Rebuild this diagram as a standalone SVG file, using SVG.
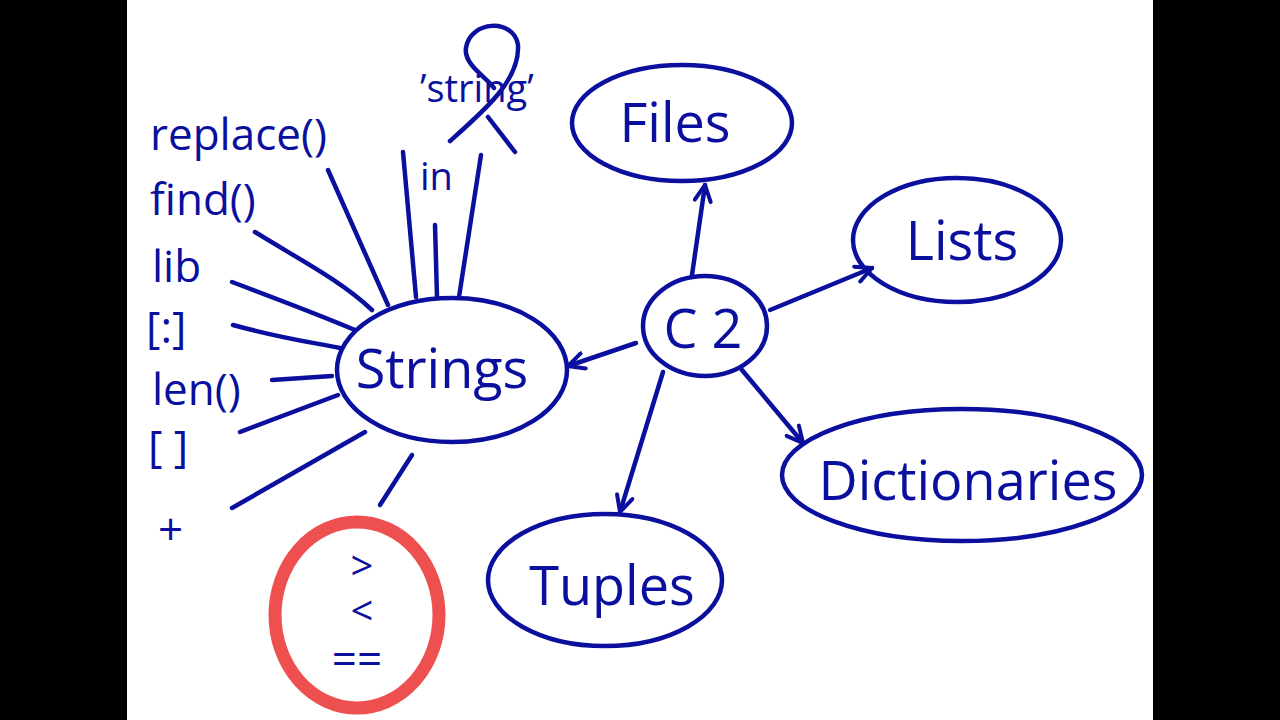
<svg xmlns="http://www.w3.org/2000/svg" width="1280" height="720" viewBox="0 0 1280 720">
<style>
.n{fill:none;stroke:#0a0f9e;stroke-width:4.5;stroke-linecap:round}
.t{fill:#0a0f9e;font-family:"Open Sans",sans-serif}
.l{font-size:54px}
.s{font-size:44px}
</style>
<defs><marker id="a" viewBox="0 0 10 10" refX="9" refY="5" markerWidth="20" markerHeight="20" orient="auto" markerUnits="userSpaceOnUse"><path d="M1,1 L9,5 L1,9" fill="none" stroke="#0a0f9e" stroke-width="2" stroke-linecap="round"/></marker></defs>
<rect width="1280" height="720" fill="#000"/>
<rect x="127" y="0" width="1026" height="720" fill="#fff"/>
<g id="files"><ellipse class="n" cx="682" cy="123" rx="110" ry="58"/><text class="t l" x="675" y="142" text-anchor="middle">Files</text></g>
<g id="lists"><ellipse class="n" cx="957" cy="240" rx="104" ry="62"/><text class="t l" x="962" y="260" text-anchor="middle">Lists</text></g>
<g id="c2"><ellipse class="n" cx="705" cy="326" rx="62" ry="50"/><text class="t l" x="703" y="348" text-anchor="middle">C 2</text></g>
<g id="strings"><ellipse class="n" cx="452" cy="370" rx="115" ry="72"/><text class="t l" x="442" y="388" text-anchor="middle">Strings</text></g>
<g id="dictionaries"><ellipse class="n" cx="962" cy="475" rx="180" ry="66"/><text class="t l" x="968" y="500" text-anchor="middle">Dictionaries</text></g>
<g id="tuples"><ellipse class="n" cx="605" cy="580" rx="117" ry="66"/><text class="t l" x="612" y="605" text-anchor="middle">Tuples</text></g>
<g id="compare"><ellipse cx="357" cy="615" rx="82" ry="93" fill="none" stroke="#ee5050" stroke-width="13"/>
<text class="t" x="362" y="580" font-size="40" text-anchor="middle">&gt;</text><text class="t" x="362" y="625" font-size="40" text-anchor="middle">&lt;</text><text class="t" x="357" y="675" font-size="44" text-anchor="middle">==</text></g>
<g id="labels">
<text class="t s" x="150" y="150">replace()</text>
<text class="t s" x="150" y="215">find()</text>
<text class="t s" x="152" y="282">lib</text>
<text class="t s" x="146" y="343">[:]</text>
<text class="t s" x="152" y="405">len()</text>
<text class="t s" x="148" y="462">[ ]</text>
<text class="t s" x="158" y="545">+</text>
<text class="t" x="420" y="190" font-size="38">in</text>
<text class="t" x="420" y="102" font-size="38">’string’</text>
</g>
<g id="connectors">
<path class="n" d="M692,275 L705,185" marker-end="url(#a)"/>
<path class="n" d="M770,310 L872,268" marker-end="url(#a)"/>
<path class="n" d="M636,343 L568,366" marker-end="url(#a)"/>
<path class="n" d="M663,372 L620,512" marker-end="url(#a)"/>
<path class="n" d="M742,370 L803,443" marker-end="url(#a)"/>
<path class="n" d="M328,170 L388,305"/>
<path class="n" d="M403,152 L416,297"/>
<path class="n" d="M435,225 L437,297"/>
<path class="n" d="M481,155 L459,297"/>
<path class="n" d="M255,232 C300,260 340,280 372,310"/>
<path class="n" d="M232,282 C280,300 320,315 355,330"/>
<path class="n" d="M233,325 C280,338 310,342 340,348"/>
<path class="n" d="M272,380 L332,376"/>
<path class="n" d="M240,432 L338,395"/>
<path class="n" d="M232,508 L365,432"/>
<path class="n" d="M412,455 L380,505"/>
<path class="n" d="M450,141 C485,110 520,80 518,45 C514,18 470,20 466,48 C463,65 490,80 494,88"/>
<path class="n" d="M488,117 L515,152"/>
</g>
</svg>
